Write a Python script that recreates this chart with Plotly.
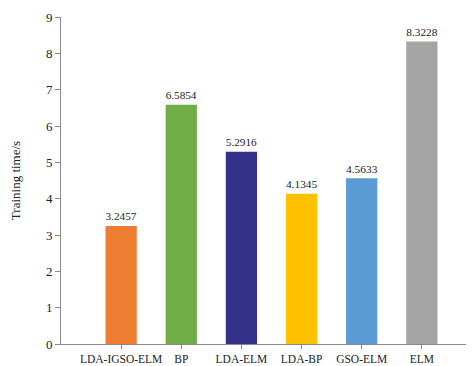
import plotly.graph_objects as go

categories = ["LDA-IGSO-ELM", "BP", "LDA-ELM", "LDA-BP", "GSO-ELM", "ELM"]
values = [3.2457, 6.5854, 5.2916, 4.1345, 4.5633, 8.3228]
labels = ["3.2457", "6.5854", "5.2916", "4.1345", "4.5633", "8.3228"]
colors = ["#ED7D31", "#70AD47", "#33318A", "#FFC000", "#5B9BD5", "#A5A5A5"]
y_ticks = list(range(0, 10))

font_family = "Liberation Serif"

fig = go.Figure(
    go.Bar(
        x=categories,
        y=values,
        marker=dict(color=colors, line=dict(width=0)),
        width=0.52,
        text=labels,
        textposition="outside",
        textfont=dict(family=font_family, size=13, color="#222"),
        cliponaxis=False,
    )
)

fig.update_layout(
    width=474,
    height=366,
    margin=dict(l=53, r=0, t=9, b=30),
    plot_bgcolor="white",
    paper_bgcolor="white",
    showlegend=False,
    font=dict(family=font_family, color="#222"),
)

fig.update_xaxes(
    range=[-1, 6],
    showline=True,
    linecolor="#8a8a8a",
    linewidth=1,
    ticks="outside",
    ticklen=4,
    tickcolor="#8a8a8a",
    tickfont=dict(size=11.5, family=font_family, color="#222"),
    showgrid=False,
    zeroline=False,
    automargin=False,
)

fig.update_yaxes(
    range=[0, 9],
    tickvals=y_ticks,
    showline=True,
    linecolor="#8a8a8a",
    linewidth=1,
    ticks="outside",
    ticklen=5,
    tickcolor="#8a8a8a",
    tickfont=dict(size=13, family=font_family, color="#222"),
    showgrid=False,
    zeroline=False,
    automargin=False,
    title=dict(text="Training time/s", font=dict(size=13, family=font_family, color="#222"), standoff=26),
)

fig.write_html("out.html")
